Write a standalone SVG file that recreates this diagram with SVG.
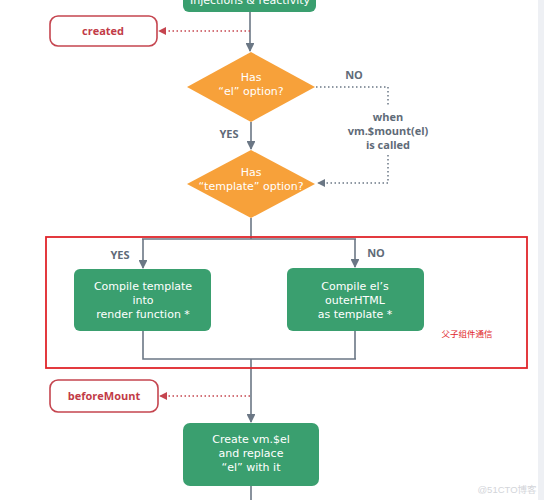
<svg xmlns="http://www.w3.org/2000/svg" width="544" height="500" viewBox="0 0 544 500">
<defs>
<style>
.g{fill:#3a9f6f}
.d{fill:#f7a13a}
.wt{font-family:"DejaVu Sans","Liberation Sans",sans-serif;font-size:11px;fill:#ffffff;text-anchor:middle}
.hook{fill:#ffffff;stroke:#c5454f;stroke-width:1.6}
.ht{font-family:"Open Sans","Liberation Sans",sans-serif;font-size:11px;font-weight:bold;fill:#c23b47;text-anchor:middle}
.lb{font-family:"Open Sans","Liberation Sans",sans-serif;font-size:11px;font-weight:bold;fill:#5f6b78;text-anchor:middle}
.ln{fill:none;stroke:#6b7785;stroke-width:1.6}
.dt{fill:none;stroke:#6b7785;stroke-width:1.5;stroke-dasharray:1.5 2.5}
.rd{fill:none;stroke:#c5454f;stroke-width:1.5;stroke-dasharray:1.5 2.5}
</style>
<marker id="ag" viewBox="0 0 10 10" refX="9" refY="5" markerWidth="5.5" markerHeight="5.5" orient="auto"><path d="M0,0 L10,5 L0,10 z" fill="#6b7785"/></marker>
<marker id="ar" viewBox="0 0 10 10" refX="9" refY="5" markerWidth="5.5" markerHeight="5.5" orient="auto"><path d="M0,0 L10,5 L0,10 z" fill="#c5454f"/></marker>
</defs>
<rect width="544" height="500" fill="#ffffff"/>
<rect x="538" y="0" width="6" height="500" fill="#eef0f4"/>
<g id="connectors">
<path class="ln" d="M250,12 V51" marker-end="url(#ag)"/>
<path class="rd" d="M250,31 H159" marker-end="url(#ar)"/>
<path class="ln" d="M251,122 V149" marker-end="url(#ag)"/>
<path class="dt" d="M316,87 H388 V106"/>
<path class="dt" d="M388,155 V183 H318" marker-end="url(#ag)"/>
<path class="ln" d="M251,218 V239 M142,239 H356"/>
<path class="ln" d="M143,239 V268" marker-end="url(#ag)"/>
<path class="ln" d="M355,239 V267" marker-end="url(#ag)"/>
<path class="ln" d="M143,331 V359 H356 M355,331 V359"/>
<path class="ln" d="M251,359 V422" marker-end="url(#ag)"/>
<path class="rd" d="M250,396 H160" marker-end="url(#ar)"/>
<path class="ln" d="M251,486 V500"/>
</g>
<g id="node-init">
<rect class="g" x="183" y="-20" width="133" height="32" rx="6"/>
<text class="wt" x="250" y="4">Injections &amp; reactivity</text>
</g>
<g id="node-created">
<rect class="hook" x="50" y="16" width="107" height="30" rx="8"/>
<text class="ht" x="103" y="35">created</text>
</g>
<g id="node-has-el">
<polygon class="d" points="251,52 315,87 251,122 187,87"/>
<text class="wt" x="251" y="81">Has</text>
<text class="wt" x="251" y="95">“el” option?</text>
</g>
<text class="lb" x="354" y="79">NO</text>
<text class="lb" x="229" y="138">YES</text>
<g id="label-mount">
<text class="lb" x="388" y="121">when</text>
<text class="lb" x="388" y="135">vm.$mount(el)</text>
<text class="lb" x="388" y="149">is called</text>
</g>
<g id="node-has-template">
<polygon class="d" points="251,150 315,184 251,218 187,184"/>
<text class="wt" x="251" y="176">Has</text>
<text class="wt" x="251" y="190">“template” option?</text>
</g>
<rect x="46" y="237" width="481" height="131" fill="none" stroke="#e0252b" stroke-width="1.8"/>
<text class="lb" x="120" y="259">YES</text>
<text class="lb" x="376" y="257">NO</text>
<g id="node-compile-template">
<rect class="g" x="74" y="269" width="137" height="62" rx="6"/>
<text class="wt" x="143" y="290">Compile template</text>
<text class="wt" x="143" y="304">into</text>
<text class="wt" x="143" y="318">render function *</text>
</g>
<g id="node-compile-el">
<rect class="g" x="287" y="268" width="137" height="63" rx="6"/>
<text class="wt" x="355" y="290">Compile el’s</text>
<text class="wt" x="355" y="304">outerHTML</text>
<text class="wt" x="355" y="318">as template *</text>
</g>
<text x="467" y="337" font-family="'Noto Sans CJK SC',sans-serif" font-size="8.5" fill="#e0252b" text-anchor="middle">父子组件通信</text>
<g id="node-beforeMount">
<rect class="hook" x="50" y="380" width="108" height="32" rx="8"/>
<text class="ht" x="104" y="400">beforeMount</text>
</g>
<g id="node-create-el">
<rect class="g" x="183" y="423" width="136" height="63" rx="7"/>
<text class="wt" x="251" y="443">Create vm.$el</text>
<text class="wt" x="251" y="457">and replace</text>
<text class="wt" x="251" y="471">“el” with it</text>
</g>
<text x="507" y="493" font-family="'Liberation Sans','Noto Sans CJK SC',sans-serif" font-size="9.5" fill="#d3d5da" text-anchor="middle">@51CTO博客</text>
</svg>
